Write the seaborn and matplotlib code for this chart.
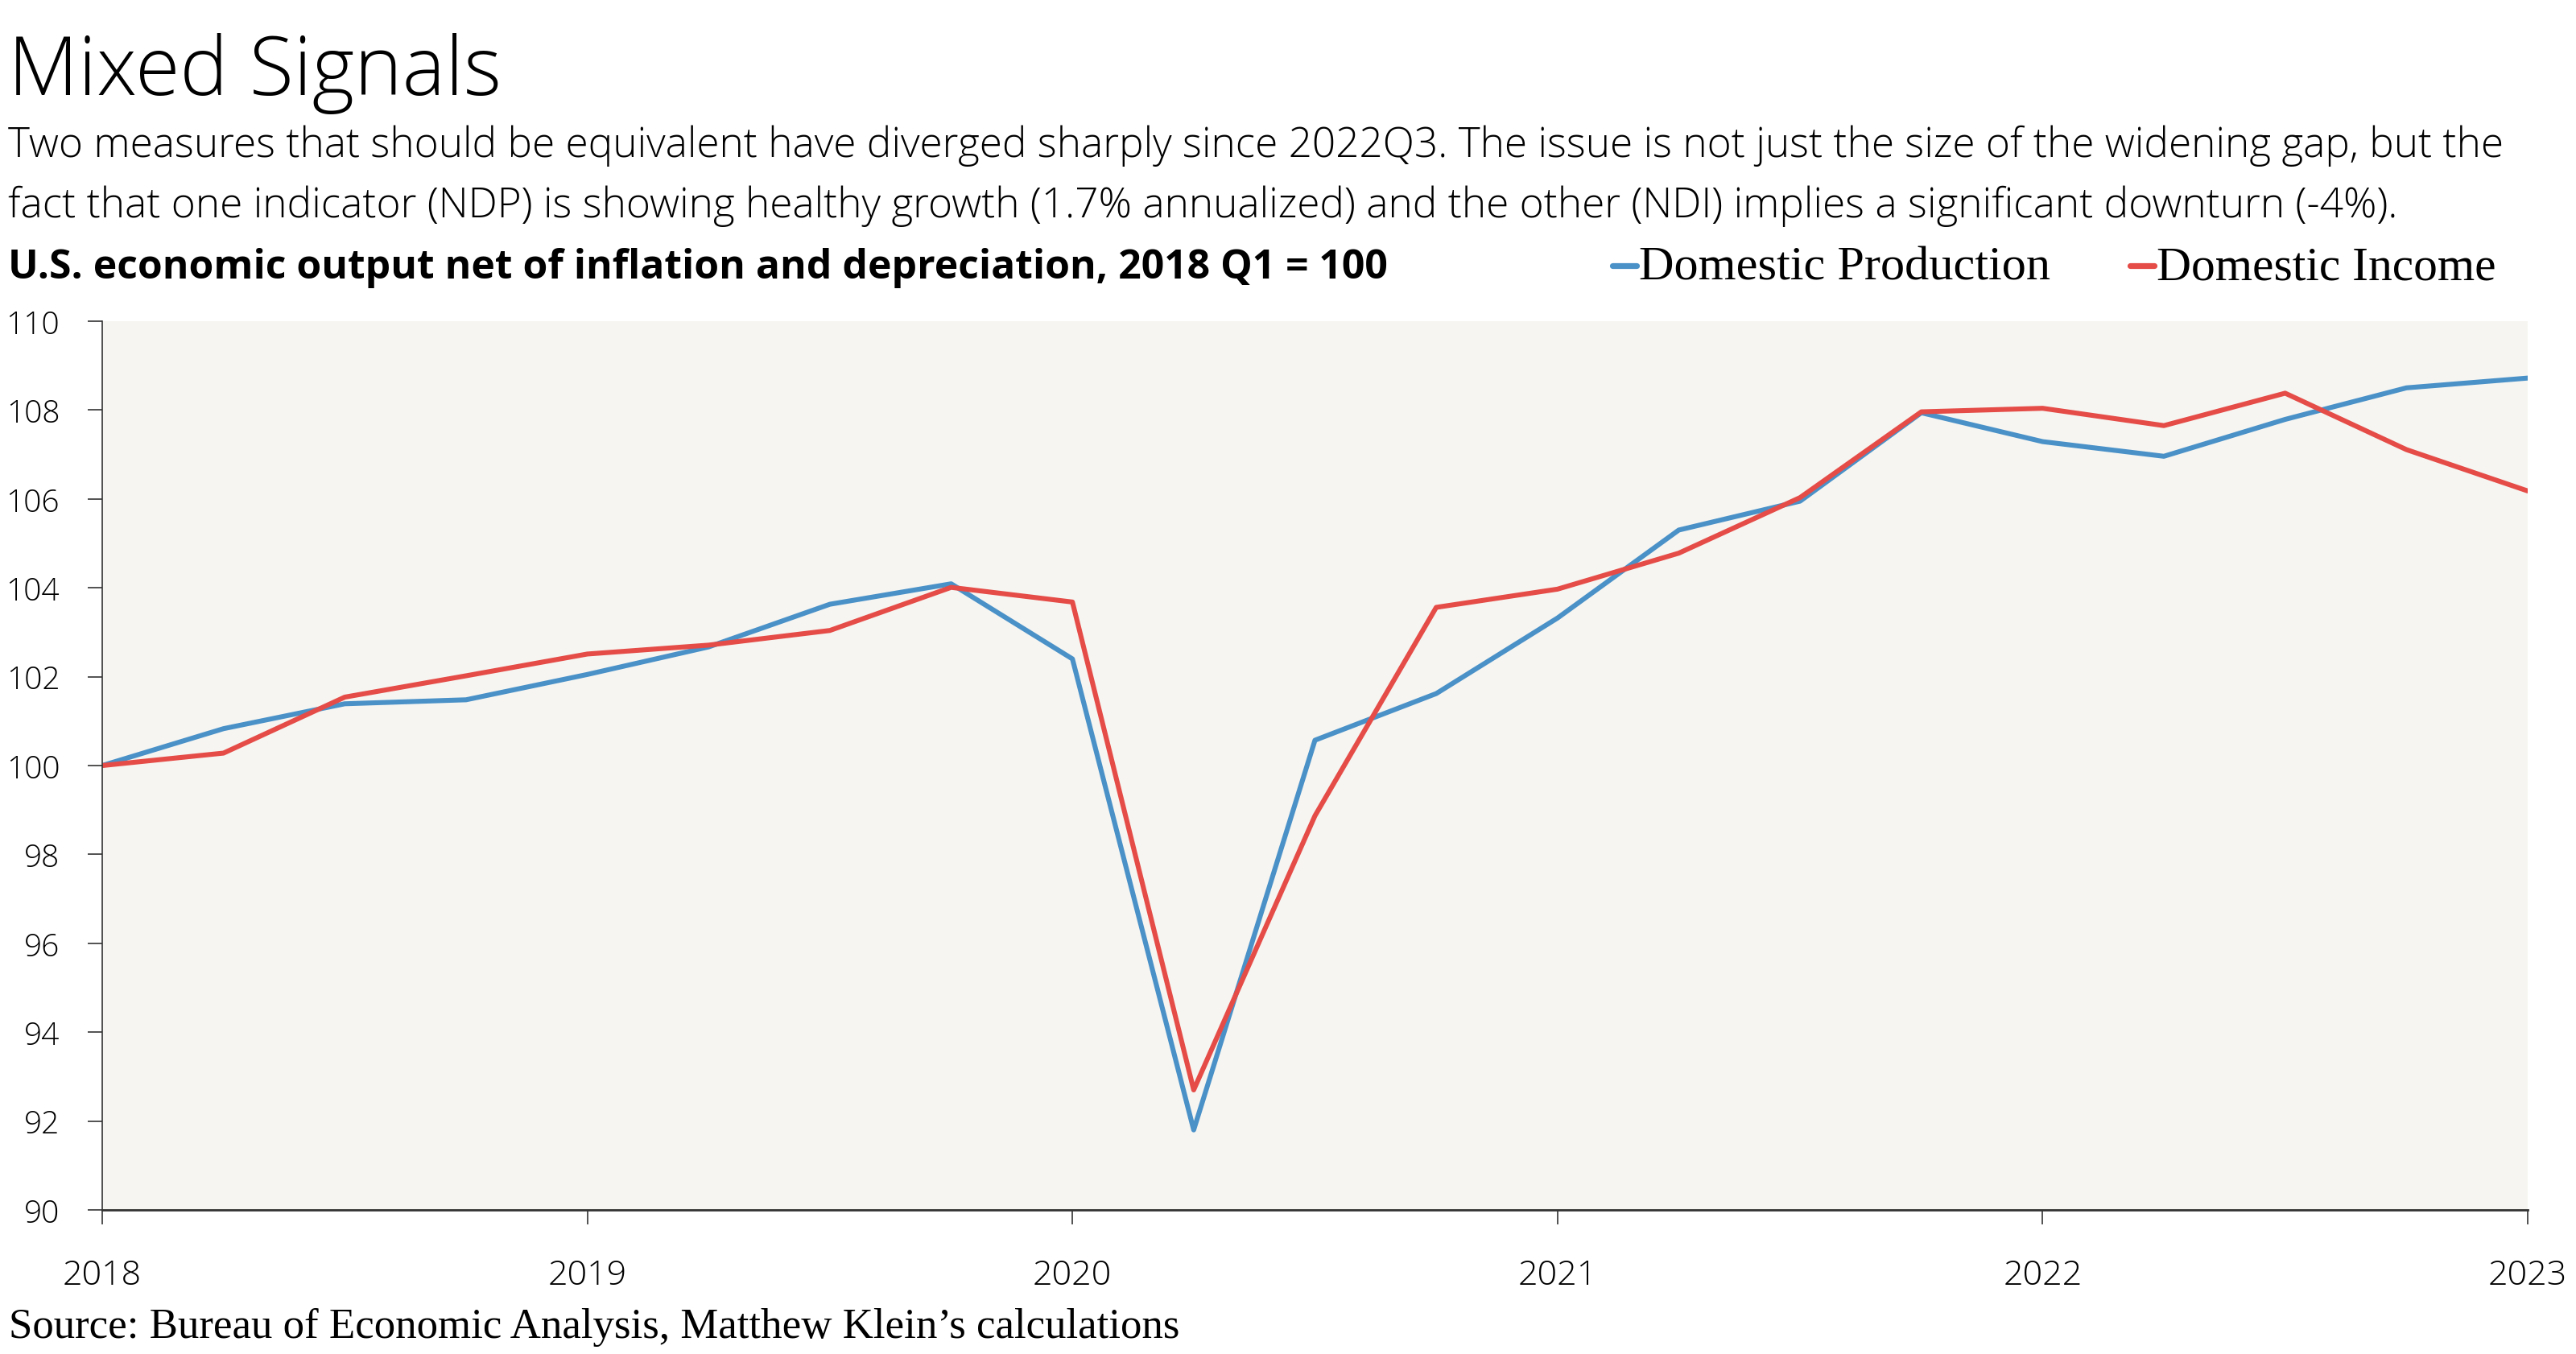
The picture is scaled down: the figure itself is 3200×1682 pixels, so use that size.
import matplotlib
matplotlib.use("Agg")
import matplotlib.pyplot as plt
import numpy as np
import pandas as pd
import seaborn as sns
from matplotlib.lines import Line2D

# ---------------- data ----------------
quarters = ["2018Q1", "2018Q2", "2018Q3", "2018Q4",
            "2019Q1", "2019Q2", "2019Q3", "2019Q4",
            "2020Q1", "2020Q2", "2020Q3", "2020Q4",
            "2021Q1", "2021Q2", "2021Q3", "2021Q4",
            "2022Q1", "2022Q2", "2022Q3", "2022Q4",
            "2023Q1"]
production = [100.0, 100.83, 101.39, 101.48,
              102.05, 102.67, 103.63, 104.09,
              102.40, 91.80, 100.57, 101.62,
              103.32, 105.30, 105.95, 107.94,
              107.29, 106.96, 107.79, 108.50,
              108.72]
income = [100.0, 100.28, 101.54, 102.02,
          102.51, 102.71, 103.04, 104.01,
          103.68, 92.70, 98.87, 103.56,
          103.97, 104.78, 106.03, 107.96,
          108.04, 107.65, 108.38, 107.11,
          106.18]
series_names = ["Domestic Production", "Domestic Income"]
x_tick_years = [2018, 2019, 2020, 2021, 2022, 2023]
y_ticks = [90, 92, 94, 96, 98, 100, 102, 104, 106, 108, 110]

title = "Mixed Signals"
subtitle1 = ("Two measures that should be equivalent have diverged sharply since 2022Q3. "
             "The issue is not just the size of the widening gap, but the")
subtitle2 = ("fact that one indicator (NDP) is showing healthy growth (1.7% annualized) "
             "and the other (NDI) implies a significant downturn (-4%).")
axis_title = "U.S. economic output net of inflation and depreciation, 2018 Q1 = 100"
source = "Source: Bureau of Economic Analysis, Matthew Klein\u2019s calculations"

# ---------------- frame ----------------
def q_to_num(q):
    return int(q[:4]) + (int(q[-1]) - 1) / 4.0

t = [q_to_num(q) for q in quarters]
df = pd.concat([
    pd.DataFrame({"t": t, "value": production, "series": series_names[0]}),
    pd.DataFrame({"t": t, "value": income, "series": series_names[1]}),
], ignore_index=True)

# ---------------- style ----------------
sns.set_theme(style="white")
SANS = ["Open Sans", "DejaVu Sans"]
SERIF = ["Liberation Serif", "DejaVu Serif"]
plt.rcParams["font.family"] = SANS

BLUE = "#4a91c8"
RED = "#e54c48"
BG = "#f6f5f1"
DARK = "#333333"
palette = {series_names[0]: BLUE, series_names[1]: RED}

W, H, DPI = 3200, 1683, 200
fig = plt.figure(figsize=(W / DPI, H / DPI), dpi=DPI)
fig.patch.set_facecolor("white")

ax_left, ax_right, ax_top, ax_bottom = 127, 3140, 400, 1504
ax = fig.add_axes([ax_left / W, 1 - ax_bottom / H,
                   (ax_right - ax_left) / W, (ax_bottom - ax_top) / H])
ax.set_facecolor(BG)

sns.lineplot(data=df, x="t", y="value", hue="series", hue_order=series_names,
             palette=palette, linewidth=2.2, legend=False, ax=ax, sort=False)

ax.set_xlim(x_tick_years[0], x_tick_years[-1])
ax.set_ylim(y_ticks[0], y_ticks[-1])
ax.set_xticks(x_tick_years)
ax.set_xticklabels([str(y) for y in x_tick_years])
ax.set_yticks(y_ticks)
ax.set_yticklabels([str(v) for v in y_ticks])
ax.set_xlabel("")
ax.set_ylabel("")
ax.grid(False)

for s in ["top", "right"]:
    ax.spines[s].set_visible(False)
ax.spines["left"].set_color(DARK)
ax.spines["left"].set_linewidth(0.6)
ax.spines["bottom"].set_color(DARK)
ax.spines["bottom"].set_linewidth(1.0)

ax.tick_params(axis="y", which="major", left=True, length=6.5, width=0.6,
               color=DARK, pad=12.5, labelsize=14, labelcolor="black")
ax.tick_params(axis="x", which="major", bottom=True, length=6.5, width=0.6,
               color=DARK, pad=15, labelsize=15.5, labelcolor="black")
for lab in ax.get_xticklabels() + ax.get_yticklabels():
    lab.set_fontweight("light")

# ---------------- text ----------------
renderer = fig.canvas.get_renderer()

def fit(txt, width_px):
    w = txt.get_window_extent(renderer).width
    txt.set_fontsize(txt.get_fontsize() * width_px / w)

def fy(px):
    return 1 - px / H

t_title = fig.text(10 / W, fy(118), title, fontsize=38, fontweight="light",
                   va="baseline", ha="left", color="black")
fit(t_title, 612)

t_s1 = fig.text(10 / W, fy(195), subtitle1, fontsize=16, fontweight="light",
                va="baseline", ha="left", color="black")
fit(t_s1, 3105)
t_s2 = fig.text(10 / W, fy(270), subtitle2, fontsize=t_s1.get_fontsize(),
                fontweight="light", va="baseline", ha="left", color="black")

t_ax = fig.text(10 / W, fy(346), axis_title, fontsize=17, fontweight="bold",
                va="baseline", ha="left", color="black")
fit(t_ax, 1712)

# legend (custom, on top line)
leg_specs = [(series_names[0], BLUE, 2003, 2036, 511),
             (series_names[1], RED, 2646, 2679, 421)]
for name, col, mx0, tx0, tw in leg_specs:
    fig.add_artist(Line2D([mx0 / W, (mx0 + 30) / W], [fy(331), fy(331)],
                          transform=fig.transFigure, color=col, linewidth=2.6,
                          solid_capstyle="round"))
    tl = fig.text(tx0 / W, fy(347), name, fontsize=19, family=SERIF,
                  va="baseline", ha="left", color="black")
    fit(tl, tw)

t_src = fig.text(11 / W, fy(1662), source, fontsize=16, family=SERIF,
                 va="baseline", ha="left", color="black")
fit(t_src, 1456)

fig.savefig("out.png", dpi=DPI, facecolor="white")
